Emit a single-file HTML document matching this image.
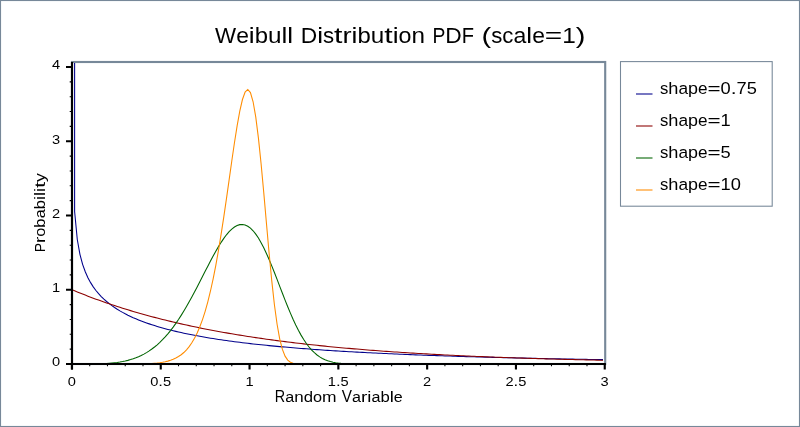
<!DOCTYPE html>
<html><head><meta charset="utf-8"><style>
html,body{margin:0;padding:0;background:#fff;width:800px;height:427px;overflow:hidden}
svg{display:block;will-change:transform}
text{font-family:"Liberation Sans",sans-serif;fill:#000}
</style></head><body>
<svg width="800" height="427" viewBox="0 0 800 427">
<rect x="0" y="0" width="800" height="427" fill="#fff" stroke="#778899" stroke-width="2.13"/>
<rect x="72" y="62" width="533.2" height="302" fill="#fff" stroke="#778899" stroke-width="2.13"/>
<defs><clipPath id="pw"><rect x="72" y="63.07" width="531" height="300.93"/></clipPath></defs>
<g clip-path="url(#pw)"><path d="M74.61,40.00 L74.61,211.55 L77.28,239.50 L79.94,254.35 L82.61,264.33 L85.27,271.80 L87.93,277.73 L90.60,282.65 L93.26,286.84 L95.93,290.47 L98.59,293.68 L101.25,296.55 L103.92,299.15 L106.58,301.51 L109.25,303.68 L111.91,305.68 L114.57,307.53 L117.24,309.26 L119.90,310.88 L122.57,312.40 L125.23,313.83 L127.89,315.18 L130.56,316.46 L133.22,317.68 L135.89,318.83 L138.55,319.93 L141.21,320.98 L143.88,321.98 L146.54,322.95 L149.21,323.87 L151.87,324.75 L154.53,325.60 L157.20,326.42 L159.86,327.20 L162.53,327.96 L165.19,328.69 L167.85,329.40 L170.52,330.08 L173.18,330.74 L175.85,331.38 L178.51,332.00 L181.17,332.60 L183.84,333.18 L186.50,333.75 L189.17,334.29 L191.83,334.82 L194.49,335.34 L197.16,335.84 L199.82,336.33 L202.49,336.81 L205.15,337.27 L207.81,337.72 L210.48,338.16 L213.14,338.59 L215.81,339.01 L218.47,339.41 L221.13,339.81 L223.80,340.20 L226.46,340.58 L229.13,340.95 L231.79,341.31 L234.45,341.66 L237.12,342.00 L239.78,342.34 L242.45,342.67 L245.11,342.99 L247.77,343.31 L250.44,343.62 L253.10,343.92 L255.77,344.21 L258.43,344.50 L261.09,344.79 L263.76,345.06 L266.42,345.34 L269.09,345.60 L271.75,345.86 L274.41,346.12 L277.08,346.37 L279.74,346.62 L282.41,346.86 L285.07,347.09 L287.73,347.33 L290.40,347.55 L293.06,347.78 L295.73,348.00 L298.39,348.21 L301.05,348.43 L303.72,348.63 L306.38,348.84 L309.05,349.04 L311.71,349.23 L314.37,349.43 L317.04,349.62 L319.70,349.80 L322.37,349.99 L325.03,350.17 L327.69,350.35 L330.36,350.52 L333.02,350.69 L335.69,350.86 L338.35,351.03 L341.01,351.19 L343.68,351.35 L346.34,351.51 L349.01,351.66 L351.67,351.81 L354.33,351.96 L357.00,352.11 L359.66,352.26 L362.33,352.40 L364.99,352.54 L367.65,352.68 L370.32,352.82 L372.98,352.95 L375.65,353.08 L378.31,353.21 L380.97,353.34 L383.64,353.47 L386.30,353.59 L388.97,353.72 L391.63,353.84 L394.29,353.96 L396.96,354.07 L399.62,354.19 L402.29,354.30 L404.95,354.41 L407.61,354.52 L410.28,354.63 L412.94,354.74 L415.61,354.85 L418.27,354.95 L420.93,355.05 L423.60,355.16 L426.26,355.26 L428.93,355.35 L431.59,355.45 L434.25,355.55 L436.92,355.64 L439.58,355.73 L442.25,355.83 L444.91,355.92 L447.57,356.01 L450.24,356.09 L452.90,356.18 L455.57,356.27 L458.23,356.35 L460.89,356.44 L463.56,356.52 L466.22,356.60 L468.89,356.68 L471.55,356.76 L474.21,356.84 L476.88,356.91 L479.54,356.99 L482.21,357.06 L484.87,357.14 L487.53,357.21 L490.20,357.28 L492.86,357.35 L495.53,357.43 L498.19,357.49 L500.85,357.56 L503.52,357.63 L506.18,357.70 L508.85,357.76 L511.51,357.83 L514.17,357.89 L516.84,357.96 L519.50,358.02 L522.17,358.08 L524.83,358.14 L527.49,358.20 L530.16,358.26 L532.82,358.32 L535.49,358.38 L538.15,358.44 L540.81,358.49 L543.48,358.55 L546.14,358.60 L548.81,358.66 L551.47,358.71 L554.13,358.77 L556.80,358.82 L559.46,358.87 L562.13,358.92 L564.79,358.97 L567.45,359.02 L570.12,359.07 L572.78,359.12 L575.45,359.17 L578.11,359.22 L580.77,359.27 L583.44,359.31 L586.10,359.36 L588.77,359.41 L591.43,359.45 L594.09,359.50 L596.76,359.54 L599.42,359.58 L602.09,359.63 L604.75,359.67" stroke="#00008B" stroke-width="1.07" fill="none"/>
<path d="M71.95,289.75 L74.61,290.86 L77.28,291.94 L79.94,293.02 L82.61,294.07 L85.27,295.12 L87.93,296.14 L90.60,297.15 L93.26,298.15 L95.93,299.13 L98.59,300.09 L101.25,301.04 L103.92,301.98 L106.58,302.90 L109.25,303.81 L111.91,304.71 L114.57,305.59 L117.24,306.46 L119.90,307.32 L122.57,308.16 L125.23,308.99 L127.89,309.81 L130.56,310.62 L133.22,311.41 L135.89,312.20 L138.55,312.97 L141.21,313.73 L143.88,314.48 L146.54,315.21 L149.21,315.94 L151.87,316.66 L154.53,317.36 L157.20,318.06 L159.86,318.74 L162.53,319.41 L165.19,320.08 L167.85,320.73 L170.52,321.38 L173.18,322.01 L175.85,322.63 L178.51,323.25 L181.17,323.86 L183.84,324.46 L186.50,325.04 L189.17,325.62 L191.83,326.20 L194.49,326.76 L197.16,327.31 L199.82,327.86 L202.49,328.40 L205.15,328.93 L207.81,329.45 L210.48,329.96 L213.14,330.47 L215.81,330.97 L218.47,331.46 L221.13,331.95 L223.80,332.42 L226.46,332.89 L229.13,333.36 L231.79,333.81 L234.45,334.26 L237.12,334.70 L239.78,335.14 L242.45,335.57 L245.11,335.99 L247.77,336.41 L250.44,336.82 L253.10,337.23 L255.77,337.62 L258.43,338.02 L261.09,338.40 L263.76,338.79 L266.42,339.16 L269.09,339.53 L271.75,339.89 L274.41,340.25 L277.08,340.61 L279.74,340.96 L282.41,341.30 L285.07,341.64 L287.73,341.97 L290.40,342.30 L293.06,342.62 L295.73,342.94 L298.39,343.25 L301.05,343.56 L303.72,343.87 L306.38,344.17 L309.05,344.46 L311.71,344.75 L314.37,345.04 L317.04,345.32 L319.70,345.60 L322.37,345.87 L325.03,346.14 L327.69,346.41 L330.36,346.67 L333.02,346.93 L335.69,347.18 L338.35,347.43 L341.01,347.68 L343.68,347.92 L346.34,348.16 L349.01,348.40 L351.67,348.63 L354.33,348.86 L357.00,349.08 L359.66,349.31 L362.33,349.52 L364.99,349.74 L367.65,349.95 L370.32,350.16 L372.98,350.37 L375.65,350.57 L378.31,350.77 L380.97,350.97 L383.64,351.16 L386.30,351.35 L388.97,351.54 L391.63,351.73 L394.29,351.91 L396.96,352.09 L399.62,352.27 L402.29,352.44 L404.95,352.61 L407.61,352.78 L410.28,352.95 L412.94,353.11 L415.61,353.28 L418.27,353.44 L420.93,353.59 L423.60,353.75 L426.26,353.90 L428.93,354.05 L431.59,354.20 L434.25,354.35 L436.92,354.49 L439.58,354.63 L442.25,354.77 L444.91,354.91 L447.57,355.04 L450.24,355.18 L452.90,355.31 L455.57,355.44 L458.23,355.56 L460.89,355.69 L463.56,355.81 L466.22,355.94 L468.89,356.06 L471.55,356.17 L474.21,356.29 L476.88,356.41 L479.54,356.52 L482.21,356.63 L484.87,356.74 L487.53,356.85 L490.20,356.95 L492.86,357.06 L495.53,357.16 L498.19,357.26 L500.85,357.36 L503.52,357.46 L506.18,357.56 L508.85,357.66 L511.51,357.75 L514.17,357.84 L516.84,357.94 L519.50,358.03 L522.17,358.11 L524.83,358.20 L527.49,358.29 L530.16,358.37 L532.82,358.46 L535.49,358.54 L538.15,358.62 L540.81,358.70 L543.48,358.78 L546.14,358.86 L548.81,358.93 L551.47,359.01 L554.13,359.08 L556.80,359.16 L559.46,359.23 L562.13,359.30 L564.79,359.37 L567.45,359.44 L570.12,359.51 L572.78,359.57 L575.45,359.64 L578.11,359.71 L580.77,359.77 L583.44,359.83 L586.10,359.89 L588.77,359.96 L591.43,360.02 L594.09,360.07 L596.76,360.13 L599.42,360.19 L602.09,360.25 L604.75,360.30" stroke="#8B0000" stroke-width="1.07" fill="none"/>
<path d="M71.95,364.00 L74.61,364.00 L77.28,364.00 L79.94,364.00 L82.61,364.00 L85.27,363.99 L87.93,363.98 L90.60,363.95 L93.26,363.92 L95.93,363.88 L98.59,363.81 L101.25,363.72 L103.92,363.61 L106.58,363.46 L109.25,363.28 L111.91,363.05 L114.57,362.77 L117.24,362.43 L119.90,362.03 L122.57,361.56 L125.23,361.00 L127.89,360.36 L130.56,359.61 L133.22,358.77 L135.89,357.80 L138.55,356.71 L141.21,355.49 L143.88,354.12 L146.54,352.60 L149.21,350.91 L151.87,349.05 L154.53,347.02 L157.20,344.79 L159.86,342.36 L162.53,339.74 L165.19,336.90 L167.85,333.85 L170.52,330.58 L173.18,327.10 L175.85,323.40 L178.51,319.49 L181.17,315.36 L183.84,311.04 L186.50,306.53 L189.17,301.85 L191.83,297.01 L194.49,292.03 L197.16,286.95 L199.82,281.78 L202.49,276.57 L205.15,271.35 L207.81,266.16 L210.48,261.04 L213.14,256.05 L215.81,251.23 L218.47,246.64 L221.13,242.34 L223.80,238.37 L226.46,234.79 L229.13,231.67 L231.79,229.04 L234.45,226.97 L237.12,225.50 L239.78,224.65 L242.45,224.48 L245.11,225.00 L247.77,226.22 L250.44,228.15 L253.10,230.78 L255.77,234.10 L258.43,238.07 L261.09,242.65 L263.76,247.79 L266.42,253.43 L269.09,259.49 L271.75,265.90 L274.41,272.57 L277.08,279.41 L279.74,286.33 L282.41,293.25 L285.07,300.07 L287.73,306.71 L290.40,313.11 L293.06,319.20 L295.73,324.92 L298.39,330.24 L301.05,335.12 L303.72,339.55 L306.38,343.51 L309.05,347.02 L311.71,350.08 L314.37,352.72 L317.04,354.97 L319.70,356.86 L322.37,358.43 L325.03,359.70 L327.69,360.73 L330.36,361.55 L333.02,362.19 L335.69,362.68 L338.35,363.05 L341.01,363.33 L343.68,363.54 L346.34,363.68 L349.01,363.79 L351.67,363.86 L354.33,363.91 L357.00,363.94 L359.66,363.96 L362.33,363.98 L364.99,363.99 L367.65,363.99 L370.32,364.00 L372.98,364.00 L375.65,364.00 L378.31,364.00 L380.97,364.00 L383.64,364.00 L386.30,364.00 L388.97,364.00 L391.63,364.00 L394.29,364.00 L396.96,364.00 L399.62,364.00 L402.29,364.00 L404.95,364.00 L407.61,364.00 L410.28,364.00 L412.94,364.00 L415.61,364.00 L418.27,364.00 L420.93,364.00 L423.60,364.00 L426.26,364.00 L428.93,364.00 L431.59,364.00 L434.25,364.00 L436.92,364.00 L439.58,364.00 L442.25,364.00 L444.91,364.00 L447.57,364.00 L450.24,364.00 L452.90,364.00 L455.57,364.00 L458.23,364.00 L460.89,364.00 L463.56,364.00 L466.22,364.00 L468.89,364.00 L471.55,364.00 L474.21,364.00 L476.88,364.00 L479.54,364.00 L482.21,364.00 L484.87,364.00 L487.53,364.00 L490.20,364.00 L492.86,364.00 L495.53,364.00 L498.19,364.00 L500.85,364.00 L503.52,364.00 L506.18,364.00 L508.85,364.00 L511.51,364.00 L514.17,364.00 L516.84,364.00 L519.50,364.00 L522.17,364.00 L524.83,364.00 L527.49,364.00 L530.16,364.00 L532.82,364.00 L535.49,364.00 L538.15,364.00 L540.81,364.00 L543.48,364.00 L546.14,364.00 L548.81,364.00 L551.47,364.00 L554.13,364.00 L556.80,364.00 L559.46,364.00 L562.13,364.00 L564.79,364.00 L567.45,364.00 L570.12,364.00 L572.78,364.00 L575.45,364.00 L578.11,364.00 L580.77,364.00 L583.44,364.00 L586.10,364.00 L588.77,364.00 L591.43,364.00 L594.09,364.00 L596.76,364.00 L599.42,364.00 L602.09,364.00 L604.75,364.00" stroke="#006400" stroke-width="1.07" fill="none"/>
<path d="M71.95,364.00 L74.61,364.00 L77.28,364.00 L79.94,364.00 L82.61,364.00 L85.27,364.00 L87.93,364.00 L90.60,364.00 L93.26,364.00 L95.93,364.00 L98.59,364.00 L101.25,364.00 L103.92,364.00 L106.58,364.00 L109.25,364.00 L111.91,364.00 L114.57,364.00 L117.24,364.00 L119.90,363.99 L122.57,363.99 L125.23,363.99 L127.89,363.98 L130.56,363.97 L133.22,363.95 L135.89,363.92 L138.55,363.89 L141.21,363.85 L143.88,363.78 L146.54,363.70 L149.21,363.59 L151.87,363.44 L154.53,363.25 L157.20,363.00 L159.86,362.68 L162.53,362.27 L165.19,361.75 L167.85,361.11 L170.52,360.30 L173.18,359.30 L175.85,358.07 L178.51,356.56 L181.17,354.73 L183.84,352.51 L186.50,349.83 L189.17,346.63 L191.83,342.82 L194.49,338.31 L197.16,333.01 L199.82,326.81 L202.49,319.61 L205.15,311.30 L207.81,301.79 L210.48,291.00 L213.14,278.85 L215.81,265.31 L218.47,250.41 L221.13,234.21 L223.80,216.86 L226.46,198.62 L229.13,179.84 L231.79,161.02 L234.45,142.77 L237.12,125.85 L239.78,111.12 L242.45,99.51 L245.11,91.99 L247.77,89.44 L250.44,92.55 L253.10,101.76 L255.77,117.09 L258.43,138.07 L261.09,163.73 L263.76,192.64 L266.42,223.02 L269.09,252.97 L271.75,280.67 L274.41,304.73 L277.08,324.27 L279.74,339.07 L282.41,349.45 L285.07,356.16 L287.73,360.13 L290.40,362.27 L293.06,363.31 L295.73,363.75 L298.39,363.92 L301.05,363.98 L303.72,364.00 L306.38,364.00 L309.05,364.00 L311.71,364.00 L314.37,364.00 L317.04,364.00 L319.70,364.00 L322.37,364.00 L325.03,364.00 L327.69,364.00 L330.36,364.00 L333.02,364.00 L335.69,364.00 L338.35,364.00 L341.01,364.00 L343.68,364.00 L346.34,364.00 L349.01,364.00 L351.67,364.00 L354.33,364.00 L357.00,364.00 L359.66,364.00 L362.33,364.00 L364.99,364.00 L367.65,364.00 L370.32,364.00 L372.98,364.00 L375.65,364.00 L378.31,364.00 L380.97,364.00 L383.64,364.00 L386.30,364.00 L388.97,364.00 L391.63,364.00 L394.29,364.00 L396.96,364.00 L399.62,364.00 L402.29,364.00 L404.95,364.00 L407.61,364.00 L410.28,364.00 L412.94,364.00 L415.61,364.00 L418.27,364.00 L420.93,364.00 L423.60,364.00 L426.26,364.00 L428.93,364.00 L431.59,364.00 L434.25,364.00 L436.92,364.00 L439.58,364.00 L442.25,364.00 L444.91,364.00 L447.57,364.00 L450.24,364.00 L452.90,364.00 L455.57,364.00 L458.23,364.00 L460.89,364.00 L463.56,364.00 L466.22,364.00 L468.89,364.00 L471.55,364.00 L474.21,364.00 L476.88,364.00 L479.54,364.00 L482.21,364.00 L484.87,364.00 L487.53,364.00 L490.20,364.00 L492.86,364.00 L495.53,364.00 L498.19,364.00 L500.85,364.00 L503.52,364.00 L506.18,364.00 L508.85,364.00 L511.51,364.00 L514.17,364.00 L516.84,364.00 L519.50,364.00 L522.17,364.00 L524.83,364.00 L527.49,364.00 L530.16,364.00 L532.82,364.00 L535.49,364.00 L538.15,364.00 L540.81,364.00 L543.48,364.00 L546.14,364.00 L548.81,364.00 L551.47,364.00 L554.13,364.00 L556.80,364.00 L559.46,364.00 L562.13,364.00 L564.79,364.00 L567.45,364.00 L570.12,364.00 L572.78,364.00 L575.45,364.00 L578.11,364.00 L580.77,364.00 L583.44,364.00 L586.10,364.00 L588.77,364.00 L591.43,364.00 L594.09,364.00 L596.76,364.00 L599.42,364.00 L602.09,364.00 L604.75,364.00" stroke="#FF8C00" stroke-width="1.07" fill="none"/></g>
<path d="M69.7,349.15 L72,349.15 M69.7,334.30 L72,334.30 M69.7,319.45 L72,319.45 M69.7,304.60 L72,304.60 M69.7,274.90 L72,274.90 M69.7,260.05 L72,260.05 M69.7,245.20 L72,245.20 M69.7,230.35 L72,230.35 M69.7,200.65 L72,200.65 M69.7,185.80 L72,185.80 M69.7,170.95 L72,170.95 M69.7,156.10 L72,156.10 M69.7,126.40 L72,126.40 M69.7,111.55 L72,111.55 M69.7,96.70 L72,96.70 M69.7,81.85 L72,81.85" stroke="#000" stroke-width="1.07" fill="none"/>
<path d="M66,364.00 L72,364.00 M66,289.75 L72,289.75 M66,215.50 L72,215.50 M66,141.25 L72,141.25 M66,67.00 L72,67.00" stroke="#000" stroke-width="2.13" fill="none"/>
<path d="M89.71,364 L89.71,366.3 M107.47,364 L107.47,366.3 M125.23,364 L125.23,366.3 M142.99,364 L142.99,366.3 M178.51,364 L178.51,366.3 M196.27,364 L196.27,366.3 M214.03,364 L214.03,366.3 M231.79,364 L231.79,366.3 M267.31,364 L267.31,366.3 M285.07,364 L285.07,366.3 M302.83,364 L302.83,366.3 M320.59,364 L320.59,366.3 M356.11,364 L356.11,366.3 M373.87,364 L373.87,366.3 M391.63,364 L391.63,366.3 M409.39,364 L409.39,366.3 M444.91,364 L444.91,366.3 M462.67,364 L462.67,366.3 M480.43,364 L480.43,366.3 M498.19,364 L498.19,366.3 M533.71,364 L533.71,366.3 M551.47,364 L551.47,366.3 M569.23,364 L569.23,366.3 M586.99,364 L586.99,366.3" stroke="#000" stroke-width="1.07" fill="none"/>
<path d="M71.95,364 L71.95,369.5 M160.75,364 L160.75,369.5 M249.55,364 L249.55,369.5 M338.35,364 L338.35,369.5 M427.15,364 L427.15,369.5 M515.95,364 L515.95,369.5 M604.75,364 L604.75,369.5" stroke="#000" stroke-width="2.13" fill="none"/>
<line x1="66" y1="364" x2="605.9" y2="364" stroke="#000" stroke-width="2.13"/>
<line x1="72" y1="62" x2="72" y2="369.5" stroke="#000" stroke-width="2.13"/>
<rect x="620.5" y="61.6" width="151.7" height="144.6" fill="#fff" stroke="#778899" stroke-width="1.07"/>
<line x1="636" y1="94.0" x2="652.5" y2="94.0" stroke="#00008B" stroke-width="1.07"/>
<line x1="636" y1="126.0" x2="652.5" y2="126.0" stroke="#8B0000" stroke-width="1.07"/>
<line x1="636" y1="158.0" x2="652.5" y2="158.0" stroke="#006400" stroke-width="1.07"/>
<line x1="636" y1="190.0" x2="652.5" y2="190.0" stroke="#FF8C00" stroke-width="1.07"/>
<g transform="translate(215.04,42.50)"><text transform="translate(0.00,0) scale(0.9885,1)" font-size="22.61">W</text><text transform="translate(21.10,0) scale(1.0354,1)" font-size="22.08">e</text><text transform="translate(33.81,0) scale(1.1916,1)" font-size="22.08">i</text><text transform="translate(39.66,0) scale(1.0823,1)" font-size="22.08">b</text><text transform="translate(52.95,0) scale(1.0997,1)" font-size="22.08">u</text><text transform="translate(66.45,0) scale(1.1916,1)" font-size="22.08">l</text><text transform="translate(72.30,0) scale(1.1916,1)" font-size="22.08">l</text><text transform="translate(85.65,0) scale(1.0072,1)" font-size="22.61">D</text><text transform="translate(102.10,0) scale(1.1916,1)" font-size="22.08">i</text><text transform="translate(107.94,0) scale(1.0068,1)" font-size="22.08">s</text><text transform="translate(119.06,0) scale(1.3702,1)" font-size="22.08">t</text><text transform="translate(127.46,0) scale(1.2389,1)" font-size="22.08">r</text><text transform="translate(136.57,0) scale(1.1916,1)" font-size="22.08">i</text><text transform="translate(142.42,0) scale(1.0823,1)" font-size="22.08">b</text><text transform="translate(155.71,0) scale(1.0997,1)" font-size="22.08">u</text><text transform="translate(169.21,0) scale(1.3702,1)" font-size="22.08">t</text><text transform="translate(177.62,0) scale(1.1916,1)" font-size="22.08">i</text><text transform="translate(183.46,0) scale(1.0545,1)" font-size="22.08">o</text><text transform="translate(196.41,0) scale(1.0997,1)" font-size="22.08">n</text><text transform="translate(217.43,0) scale(0.8529,1)" font-size="22.61">P</text><text transform="translate(230.29,0) scale(1.0072,1)" font-size="22.61">D</text><text transform="translate(246.74,0) scale(0.8880,1)" font-size="22.61">F</text><text transform="translate(266.51,0) scale(1.3172,1)" font-size="22.08">(</text><text transform="translate(276.20,0) scale(1.0068,1)" font-size="22.08">s</text><text transform="translate(287.31,0) scale(1.0068,1)" font-size="22.08">c</text><text transform="translate(298.43,0) scale(1.0441,1)" font-size="22.08">a</text><text transform="translate(311.25,0) scale(1.1916,1)" font-size="22.08">l</text><text transform="translate(317.09,0) scale(1.0354,1)" font-size="22.08">e</text><text transform="translate(329.81,0) scale(1.3534,1)" font-size="22.08">=</text><text transform="translate(347.26,0) scale(1.0788,1)" font-size="22.61">1</text><text transform="translate(360.83,0) scale(1.3172,1)" font-size="22.08">)</text></g>
<g transform="translate(274.83,402.42)"><text transform="translate(0.00,0) scale(0.9079,1)" font-size="15.83">R</text><text transform="translate(10.38,0) scale(1.0441,1)" font-size="15.46">a</text><text transform="translate(19.35,0) scale(1.0997,1)" font-size="15.46">n</text><text transform="translate(28.81,0) scale(1.0823,1)" font-size="15.46">d</text><text transform="translate(38.11,0) scale(1.0545,1)" font-size="15.46">o</text><text transform="translate(47.17,0) scale(1.1286,1)" font-size="15.46">m</text><text transform="translate(66.96,0) scale(0.9675,1)" font-size="15.83">V</text><text transform="translate(77.17,0) scale(1.0441,1)" font-size="15.46">a</text><text transform="translate(86.15,0) scale(1.2389,1)" font-size="15.46">r</text><text transform="translate(92.52,0) scale(1.1916,1)" font-size="15.46">i</text><text transform="translate(96.62,0) scale(1.0441,1)" font-size="15.46">a</text><text transform="translate(105.59,0) scale(1.0823,1)" font-size="15.46">b</text><text transform="translate(114.89,0) scale(1.1916,1)" font-size="15.46">l</text><text transform="translate(118.99,0) scale(1.0354,1)" font-size="15.46">e</text></g>
<g transform="translate(45.20,212.30) rotate(-90) translate(-39.79,0)"><text transform="translate(0.00,0) scale(0.8703,1)" font-size="15.51">P</text><text transform="translate(9.00,0) scale(1.2642,1)" font-size="15.15">r</text><text transform="translate(15.38,0) scale(1.0760,1)" font-size="15.15">o</text><text transform="translate(24.45,0) scale(1.1044,1)" font-size="15.15">b</text><text transform="translate(33.75,0) scale(1.0654,1)" font-size="15.15">a</text><text transform="translate(42.72,0) scale(1.1044,1)" font-size="15.15">b</text><text transform="translate(52.03,0) scale(1.2159,1)" font-size="15.15">i</text><text transform="translate(56.12,0) scale(1.2159,1)" font-size="15.15">l</text><text transform="translate(60.21,0) scale(1.2159,1)" font-size="15.15">i</text><text transform="translate(64.30,0) scale(1.3981,1)" font-size="15.15">t</text><text transform="translate(70.19,0) scale(1.1673,1)" font-size="15.15">y</text></g>
<g transform="translate(659.92,94.45)"><text transform="translate(0.00,0) scale(1.0068,1)" font-size="16.56">s</text><text transform="translate(8.34,0) scale(1.0997,1)" font-size="16.56">h</text><text transform="translate(18.46,0) scale(1.0441,1)" font-size="16.56">a</text><text transform="translate(28.08,0) scale(1.0823,1)" font-size="16.56">p</text><text transform="translate(38.05,0) scale(1.0354,1)" font-size="16.56">e</text><text transform="translate(47.58,0) scale(1.3534,1)" font-size="16.56">=</text><text transform="translate(60.67,0) scale(1.0788,1)" font-size="16.96">0</text><text transform="translate(70.85,0) scale(1.2658,1)" font-size="16.56">.</text><text transform="translate(76.67,0) scale(1.0788,1)" font-size="16.96">7</text><text transform="translate(86.85,0) scale(1.0788,1)" font-size="16.96">5</text></g>
<g transform="translate(659.92,126.45)"><text transform="translate(0.00,0) scale(1.0068,1)" font-size="16.56">s</text><text transform="translate(8.34,0) scale(1.0997,1)" font-size="16.56">h</text><text transform="translate(18.46,0) scale(1.0441,1)" font-size="16.56">a</text><text transform="translate(28.08,0) scale(1.0823,1)" font-size="16.56">p</text><text transform="translate(38.05,0) scale(1.0354,1)" font-size="16.56">e</text><text transform="translate(47.58,0) scale(1.3534,1)" font-size="16.56">=</text><text transform="translate(60.67,0) scale(1.0788,1)" font-size="16.96">1</text></g>
<g transform="translate(659.92,158.45)"><text transform="translate(0.00,0) scale(1.0068,1)" font-size="16.56">s</text><text transform="translate(8.34,0) scale(1.0997,1)" font-size="16.56">h</text><text transform="translate(18.46,0) scale(1.0441,1)" font-size="16.56">a</text><text transform="translate(28.08,0) scale(1.0823,1)" font-size="16.56">p</text><text transform="translate(38.05,0) scale(1.0354,1)" font-size="16.56">e</text><text transform="translate(47.58,0) scale(1.3534,1)" font-size="16.56">=</text><text transform="translate(60.67,0) scale(1.0788,1)" font-size="16.96">5</text></g>
<g transform="translate(659.92,190.45)"><text transform="translate(0.00,0) scale(1.0068,1)" font-size="16.56">s</text><text transform="translate(8.34,0) scale(1.0997,1)" font-size="16.56">h</text><text transform="translate(18.46,0) scale(1.0441,1)" font-size="16.56">a</text><text transform="translate(28.08,0) scale(1.0823,1)" font-size="16.56">p</text><text transform="translate(38.05,0) scale(1.0354,1)" font-size="16.56">e</text><text transform="translate(47.58,0) scale(1.3534,1)" font-size="16.56">=</text><text transform="translate(60.67,0) scale(1.0788,1)" font-size="16.96">1</text><text transform="translate(70.85,0) scale(1.0788,1)" font-size="16.96">0</text></g>
<g transform="translate(51.99,366.32)"><text transform="translate(0.00,0) scale(1.0788,1)" font-size="13.57">0</text></g>
<g transform="translate(51.99,292.07)"><text transform="translate(0.00,0) scale(1.0788,1)" font-size="13.57">1</text></g>
<g transform="translate(51.99,217.82)"><text transform="translate(0.00,0) scale(1.0788,1)" font-size="13.57">2</text></g>
<g transform="translate(51.99,143.57)"><text transform="translate(0.00,0) scale(1.0788,1)" font-size="13.57">3</text></g>
<g transform="translate(51.99,69.32)"><text transform="translate(0.00,0) scale(1.0788,1)" font-size="13.57">4</text></g>
<g transform="translate(67.78,385.85)"><text transform="translate(0.00,0) scale(1.0788,1)" font-size="13.57">0</text></g>
<g transform="translate(150.18,385.85)"><text transform="translate(0.00,0) scale(1.0788,1)" font-size="13.57">0</text><text transform="translate(8.14,0) scale(1.2658,1)" font-size="13.25">.</text><text transform="translate(12.80,0) scale(1.0788,1)" font-size="13.57">5</text></g>
<g transform="translate(245.38,385.85)"><text transform="translate(0.00,0) scale(1.0788,1)" font-size="13.57">1</text></g>
<g transform="translate(327.78,385.85)"><text transform="translate(0.00,0) scale(1.0788,1)" font-size="13.57">1</text><text transform="translate(8.14,0) scale(1.2658,1)" font-size="13.25">.</text><text transform="translate(12.80,0) scale(1.0788,1)" font-size="13.57">5</text></g>
<g transform="translate(422.98,385.85)"><text transform="translate(0.00,0) scale(1.0788,1)" font-size="13.57">2</text></g>
<g transform="translate(505.38,385.85)"><text transform="translate(0.00,0) scale(1.0788,1)" font-size="13.57">2</text><text transform="translate(8.14,0) scale(1.2658,1)" font-size="13.25">.</text><text transform="translate(12.80,0) scale(1.0788,1)" font-size="13.57">5</text></g>
<g transform="translate(600.58,385.85)"><text transform="translate(0.00,0) scale(1.0788,1)" font-size="13.57">3</text></g>
</svg>
</body></html>
